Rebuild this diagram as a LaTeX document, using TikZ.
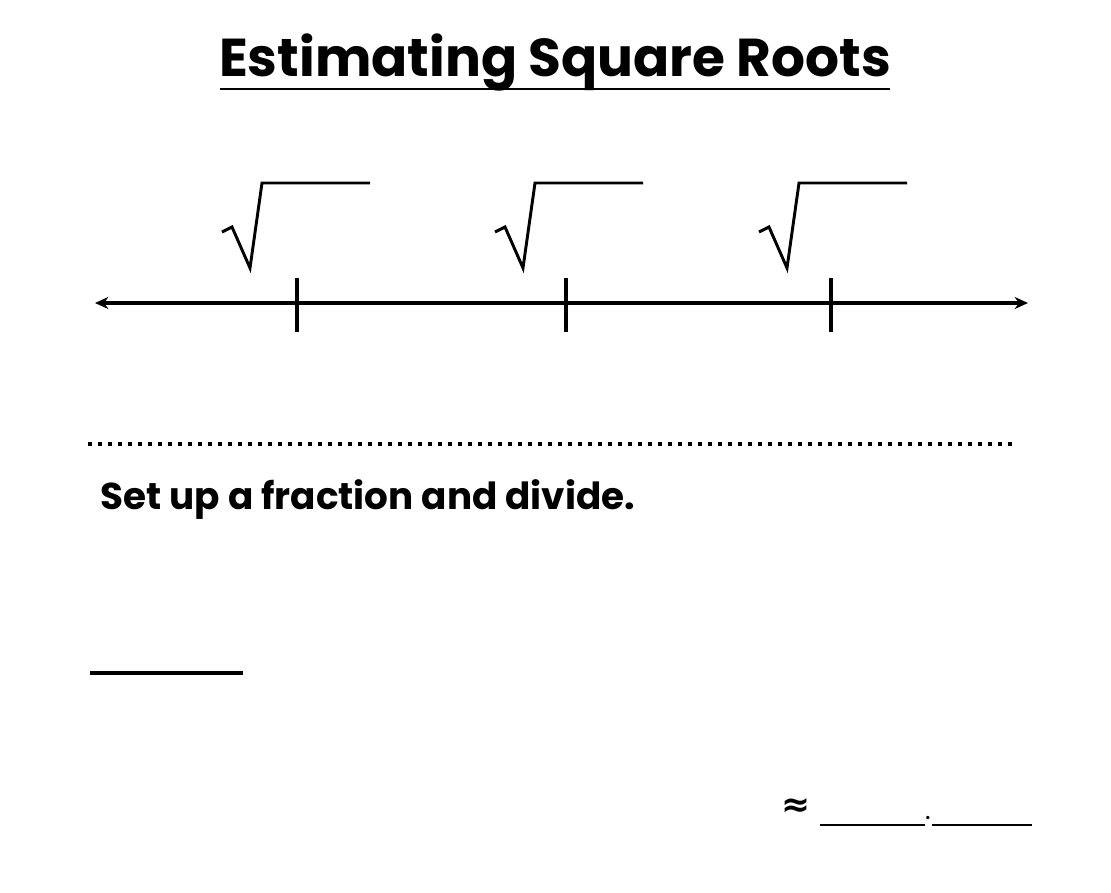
\documentclass[tikz,border=0pt]{standalone}
\usepackage{fontspec}
\setmainfont{Poppins}
\newfontfamily\dv{DejaVu Sans}
\usetikzlibrary{arrows.meta}
\begin{document}
\begin{tikzpicture}[x=0.75pt,y=-0.75pt,
  ln/.style={line width=2.6pt},
  rad/.style={line width=2.2pt,line join=miter}]
\useasboundingbox (0,0) rectangle (1111,893);
\node[font=\fontsize{40}{42}\selectfont\bfseries] (title) at (555,62) {Estimating Square Roots};
\draw[line width=1.5pt] (220,89) -- (890,89);
\foreach \x [count=\i] in {222,495,759}{
  \draw[rad] (\x,232) -- (\x+10,227) -- (\x+28,268) -- (\x+40,183) -- (\x+148,183);
}
\coordinate (l) at (95,303); \coordinate (r) at (1028,303);
\draw[ln,{Stealth[length=10pt,width=9pt]}-{Stealth[length=10pt,width=9pt]}] (l) -- (r);
\foreach \x in {297,566,831}{\draw[ln] (\x,278) -- (\x,332);}
\draw[line width=3pt,dash pattern=on 3pt off 4.5pt] (88,444) -- (1018,444);
\node[anchor=west,font=\fontsize{28}{30}\selectfont\bfseries] (txt) at (96,500) {Set up a fraction and divide.};
\draw[line width=3.5pt] (90,673) -- (243,673);
\node[font=\dv\fontsize{26}{28}\selectfont\bfseries] (ap) at (796,808) {≈};
\draw[line width=1.5pt] (820,825) -- (925,825);
\node[font=\fontsize{20}{20}\selectfont] (dot) at (928,818) {.};
\draw[line width=1.5pt] (932,825) -- (1032,825);
\end{tikzpicture}
\end{document}
